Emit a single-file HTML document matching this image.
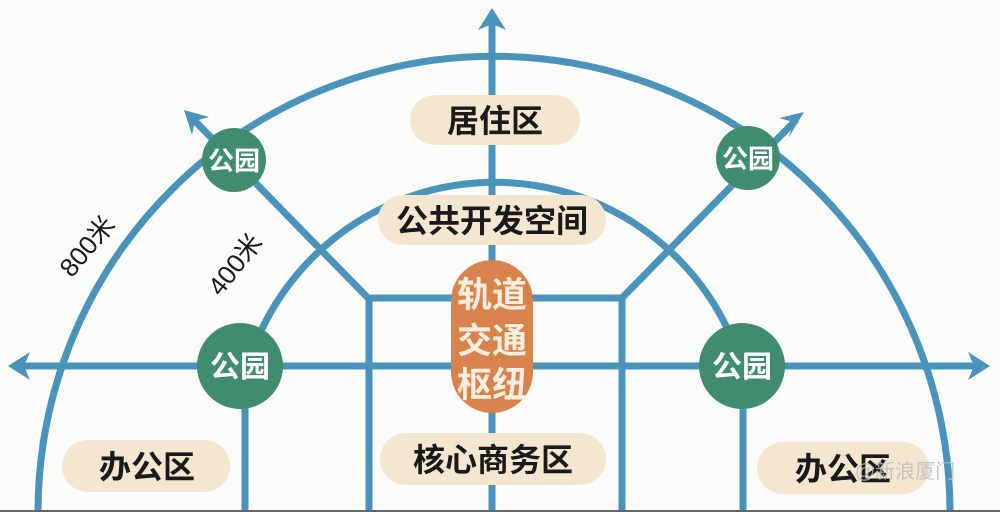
<!DOCTYPE html>
<html><head><meta charset="utf-8"><style>
html,body{margin:0;padding:0;background:#fbfbfa;}
svg{display:block;}
text{font-family:"Liberation Sans","Noto Sans CJK SC",sans-serif;}
</style></head><body>
<svg width="1000" height="512" viewBox="0 0 1000 512" xmlns="http://www.w3.org/2000/svg">
<rect width="1000" height="512" fill="#fbfbfa"/>
<g stroke="#4a94bb" stroke-width="7" fill="none">
  <path d="M38 512 A455 455 0 0 1 950 512"/>
  <path d="M255 345 A258 258 0 0 1 728 330"/>
  <line x1="16" y1="366" x2="980" y2="366"/>
  <line x1="492" y1="18" x2="492" y2="512"/>
  <polyline points="192,118 368,298 622,298 796,120"/>
  <line x1="369" y1="298" x2="369" y2="512"/>
  <line x1="622" y1="298" x2="622" y2="512"/>
  <line x1="245" y1="366" x2="245" y2="512"/>
  <line x1="743" y1="366" x2="743" y2="512"/>
</g>
<g fill="#4a94bb">
  <polygon points="8,366 30,352 24,366 30,380"/>
  <polygon points="990,366 968,352 974,366 968,380"/>
  <polygon points="492,8 478,30 492,24 506,30"/>
  <polygon points="184,110 192,135 195,121 209,117"/>
  <polygon points="804,112 779,118 793,122 789,137"/>
</g>
<line x1="0" y1="511" x2="1000" y2="511" stroke="#666" stroke-width="2"/>
<g fill="#f5e7cf">
  <rect x="410" y="95" width="170" height="50" rx="25"/>
  <rect x="378" y="195" width="228" height="50" rx="25"/>
  <rect x="380" y="433" width="226" height="52" rx="26"/>
  <rect x="62" y="440" width="168" height="52" rx="26"/>
  <rect x="757" y="442" width="172" height="52" rx="26"/>
</g>
<rect x="451" y="260" width="82" height="153" rx="41" fill="#d8824d"/>
<g fill="#3f8c6e">
  <circle cx="234" cy="160" r="32"/>
  <circle cx="748" cy="158" r="32"/>
  <circle cx="240" cy="366" r="43"/>
  <circle cx="742" cy="366" r="43"/>
</g>
<g fill="#fff" font-weight="bold" text-anchor="middle">
  <text x="234" y="170" font-size="26">公园</text>
  <text x="748" y="168" font-size="26">公园</text>
  <text x="240" y="377" font-size="30">公园</text>
  <text x="742" y="377" font-size="30">公园</text>
</g>
<g fill="#fbeede" font-weight="bold" text-anchor="middle" font-size="35">
  <text x="492" y="307">轨道</text>
  <text x="492" y="353">交通</text>
  <text x="492" y="397">枢纽</text>
</g>
<g fill="#1a1a1a" font-weight="bold" text-anchor="middle" font-size="32">
  <text x="495" y="132">居住区</text>
  <text x="492" y="232">公共开发空间</text>
  <text x="493" y="471">核心商务区</text>
  <text x="147" y="478">办公区</text>
  <text x="843" y="480">办公区</text>
</g>
<g fill="#1a1a1a" font-size="26" text-anchor="middle">
  <text transform="translate(94,252) rotate(-50)">800米</text>
  <text transform="translate(242,270) rotate(-52)">400米</text>
</g>
<text x="905" y="478" font-size="20" fill="#bbb" text-anchor="middle" opacity="0.8">@新浪厦门</text>
</svg>
</body></html>
